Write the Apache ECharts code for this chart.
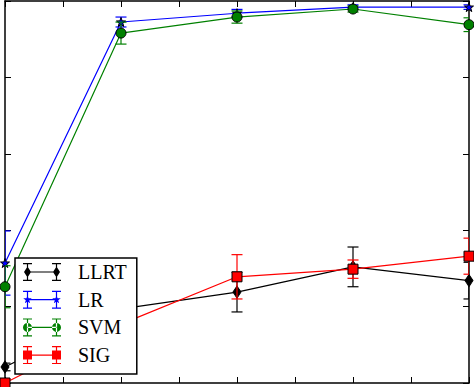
<!DOCTYPE html>
<html>
<head>
<meta charset="utf-8">
<script src="https://cdn.jsdelivr.net/npm/echarts@6/dist/echarts.min.js"></script>
<style>html,body{margin:0;padding:0;background:#fff;}#c{width:474px;height:387px;}</style>
</head>
<body>
<div id="c"></div>
<script>
// ---- data ----
const xValues = [0, 2, 4, 6, 8];
const seriesNames = ['LLRT', 'LR', 'SVM', 'SIG'];
const llrt    = [0.521, 0.597, 0.619, 0.652, 0.634];
const llrtErr = [0.005, 0.012, 0.026, 0.026, 0.024];
const lr      = [0.657, 0.9725, 0.984, 0.992, 0.992];
const lrErr   = [0.042, 0.0065, 0.005, 0.003, 0.003];
const svm     = [0.626, 0.958, 0.979, 0.9895, 0.969];
const svmErr  = [0.0275, 0.0144, 0.008, 0.004, 0.009];
const sig     = [0.500, 0.577, 0.639, 0.649, 0.666];
const sigErr  = [0.005, 0.010, 0.029, 0.012, 0.0236];

const colors = {LLRT: '#000000', LR: '#0000ff', SVM: '#008000', SIG: '#ff0000'};
const values = {LLRT: llrt, LR: lr, SVM: svm, SIG: sig};
const errs = {LLRT: llrtErr, LR: lrErr, SVM: svmErr, SIG: sigErr};

const starPath = 'path://M0,-10L2.35,-3.24L9.51,-3.09L3.8,1.24L5.88,8.09L0,4L-5.88,8.09L-3.8,1.24L-9.51,-3.09L-2.35,-3.24Z';
const symbols = {LLRT: 'diamond', LR: starPath, SVM: 'circle', SIG: 'rect'};
const symbolSizes = {LLRT: [8, 12], LR: 9, SVM: 10, SIG: 10};

function rect(x, y, w, h) { return 'M' + x + ',' + y + 'h' + w + 'v' + h + 'h' + (-w) + 'Z'; }
function marker(type, cx, cy) {
  if (type === 'diamond') return 'M' + cx + ',' + (cy - 5.5) + 'L' + (cx + 3.5) + ',' + cy + 'L' + cx + ',' + (cy + 5.5) + 'L' + (cx - 3.5) + ',' + cy + 'Z';
  if (type === 'rect') return rect(cx - 4.5, cy - 4.5, 9, 9);
  if (type === 'circle') return 'M' + (cx - 4.5) + ',' + cy + 'a4.5,4.5 0 1,0 9,0a4.5,4.5 0 1,0 -9,0Z';
  const pts = [[0,-10],[2.35,-3.24],[9.51,-3.09],[3.8,1.24],[5.88,8.09],[0,4],[-5.88,8.09],[-3.8,1.24],[-9.51,-3.09],[-2.35,-3.24]];
  return 'M' + pts.map(p => (cx + p[0] * 0.45).toFixed(2) + ',' + (cy + p[1] * 0.45).toFixed(2)).join('L') + 'Z';
}
function legendIcon(name) {
  const t = name === 'LR' ? 'star' : symbols[name];
  const H = 18, c1 = 4.5, c2 = 33.5, cy = 9, lw = 1.2;
  let p = '';
  p += rect(c1, cy - lw / 2, c2 - c1, lw);
  [c1, c2].forEach(cx => {
    p += rect(cx - lw / 2, 0, lw, H);
    p += rect(cx - 4.5, 0, 9, lw);
    p += rect(cx - 4.5, H - lw, 9, lw);
    p += marker(t, cx, cy);
  });
  return 'path://' + p;
}

function errSeries(name) {
  const color = colors[name];
  return {
    type: 'custom',
    name: name + ' error',
    clip: true,
    z: 2 + seriesNames.indexOf(name) * 2,
    data: xValues.map((x, i) => [x, values[name][i], errs[name][i]]),
    renderItem: function (params, api) {
      const x = api.value(0), y = api.value(1), e = api.value(2);
      const top = api.coord([x, y + e]);
      const bot = api.coord([x, y - e]);
      const hw = 5.5;
      const st = {stroke: color, lineWidth: 1.2};
      return {type: 'group', children: [
        {type: 'line', shape: {x1: top[0], y1: top[1], x2: bot[0], y2: bot[1]}, style: st},
        {type: 'line', shape: {x1: top[0] - hw, y1: top[1], x2: top[0] + hw, y2: top[1]}, style: st},
        {type: 'line', shape: {x1: bot[0] - hw, y1: bot[1], x2: bot[0] + hw, y2: bot[1]}, style: st}
      ]};
    }
  };
}
function lineSeries(name) {
  return {
    type: 'line',
    name: name,
    data: xValues.map((x, i) => [x, values[name][i]]),
    symbol: symbols[name],
    symbolSize: symbolSizes[name],
    showSymbol: true,
    clip: true,
    z: 3 + seriesNames.indexOf(name) * 2,
    color: colors[name],
    lineStyle: {color: colors[name], width: 1.2},
    itemStyle: {color: colors[name], borderColor: '#000', borderWidth: 1},
    emphasis: {disabled: true}
  };
}

const axisCommon = {
  axisLine: {show: true, onZero: false, lineStyle: {color: '#000', width: 1.5}},
  axisTick: {show: true, inside: true, length: 6, lineStyle: {color: '#000', width: 1}},
  axisLabel: {show: false},
  splitLine: {show: false}
};

const series = [];
seriesNames.forEach(n => { series.push(errSeries(n)); series.push(lineSeries(n)); });

const chart = echarts.init(document.getElementById('c'), null, {renderer: 'svg'});
chart.setOption({
  animation: false,
  backgroundColor: '#fff',
  grid: {left: 5, right: 5, top: 1, bottom: 4, containLabel: false},
  xAxis: [
    Object.assign({type: 'value', min: 0, max: 8, interval: 1, position: 'bottom'}, axisCommon),
    Object.assign({type: 'value', min: 0, max: 8, interval: 1, position: 'top'}, axisCommon)
  ],
  yAxis: [
    Object.assign({type: 'value', min: 0.5, max: 1.0, interval: 0.1, position: 'left'}, axisCommon),
    Object.assign({type: 'value', min: 0.5, max: 1.0, interval: 0.1, position: 'right'}, axisCommon)
  ],
  legend: {
    orient: 'vertical',
    left: 15, top: 258,
    backgroundColor: '#fff',
    borderColor: '#000', borderWidth: 1.5, borderRadius: 0,
    padding: [4, 10, 9, 8],
    itemWidth: 38, itemHeight: 18, itemGap: 7.7, itemTextGap: 5,
    itemStyle: {borderWidth: 0},
    textStyle: {fontFamily: 'Liberation Serif', fontSize: 20, lineHeight: 18, color: '#000', padding: [0, 0, 0, 12]},
    selectedMode: false,
    z: 20,
    data: seriesNames.map(n => ({name: n, icon: legendIcon(n)}))
  },
  series: series
});
</script>
</body>
</html>
